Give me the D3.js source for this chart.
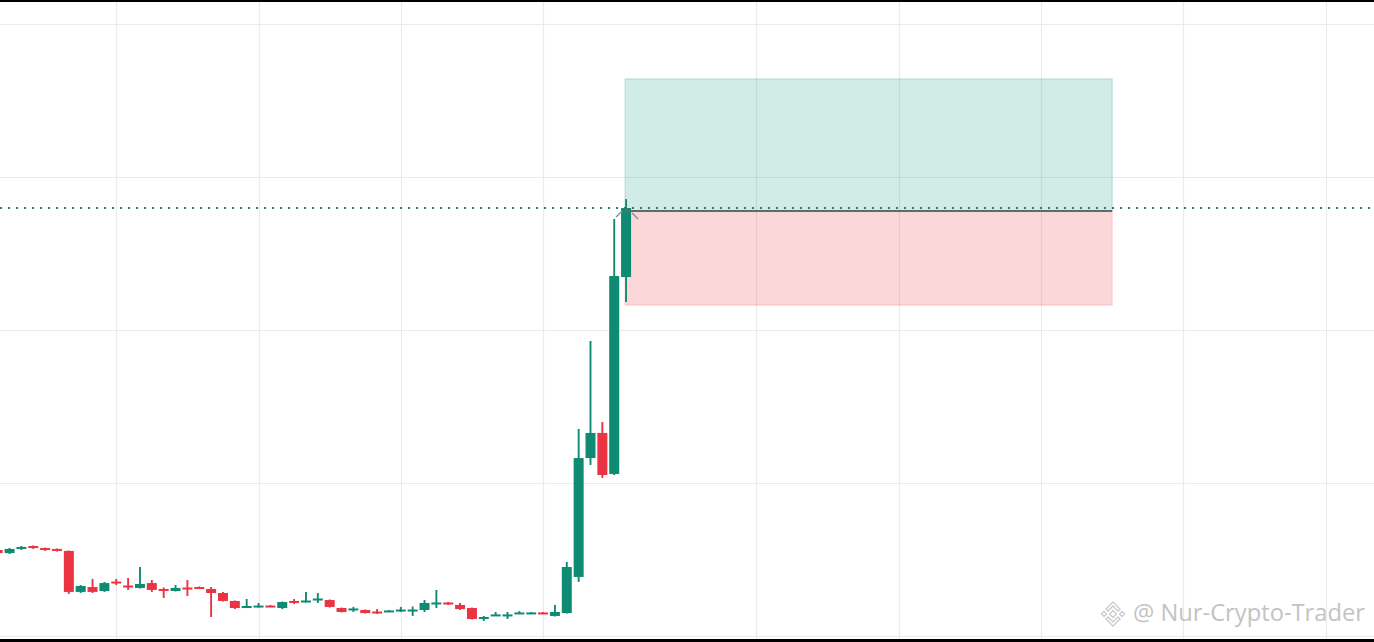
<!DOCTYPE html>
<html>
<head>
<meta charset="utf-8">
<script src="https://cdn.jsdelivr.net/npm/d3@7"></script>
<style>
  html, body { margin: 0; padding: 0; background: #ffffff; overflow: hidden; }
  svg { display: block; }
</style>
</head>
<body>
<div id="chart"></div>
<script>
/// Candle data (bar index, open, high, low, close) ///
var barIndex = d3.range(0, 54);
var opens  = [3.562, 3.542, 3.569, 3.588, 3.575, 3.569, 3.556, 3.288, 3.320, 3.294,
              3.356, 3.330, 3.314, 3.346, 3.307, 3.294, 3.317, 3.320, 3.307, 3.281,
              3.229, 3.186, 3.190, 3.199, 3.183, 3.229, 3.222, 3.235, 3.235, 3.183,
              3.170, 3.170, 3.160, 3.160, 3.167, 3.167, 3.170, 3.212, 3.219, 3.203,
              3.183, 3.111, 3.134, 3.134, 3.147, 3.147, 3.154, 3.131, 3.150, 3.386,
              4.163, 4.327, 4.059, 5.346];
var highs  = [3.569, 3.575, 3.588, 3.592, 3.578, 3.572, 3.559, 3.333, 3.373, 3.353,
              3.373, 3.379, 3.451, 3.366, 3.317, 3.333, 3.366, 3.324, 3.320, 3.288,
              3.232, 3.242, 3.216, 3.203, 3.225, 3.242, 3.288, 3.281, 3.239, 3.186,
              3.190, 3.173, 3.176, 3.170, 3.190, 3.193, 3.235, 3.301, 3.222, 3.216,
              3.186, 3.131, 3.157, 3.157, 3.163, 3.157, 3.157, 3.203, 3.484, 4.353,
              4.928, 4.399, 5.725, 5.856];
var lows   = [3.536, 3.536, 3.562, 3.569, 3.556, 3.552, 3.275, 3.281, 3.281, 3.288,
              3.333, 3.301, 3.310, 3.288, 3.248, 3.291, 3.261, 3.307, 3.124, 3.225,
              3.176, 3.183, 3.186, 3.190, 3.176, 3.209, 3.219, 3.216, 3.186, 3.154,
              3.157, 3.147, 3.144, 3.157, 3.157, 3.131, 3.157, 3.183, 3.203, 3.170,
              3.108, 3.098, 3.131, 3.111, 3.144, 3.144, 3.144, 3.127, 3.147, 3.353,
              4.118, 4.033, 4.052, 5.183];
var closes = [3.542, 3.569, 3.582, 3.578, 3.565, 3.556, 3.288, 3.327, 3.288, 3.346,
              3.346, 3.320, 3.340, 3.301, 3.297, 3.314, 3.310, 3.310, 3.281, 3.229,
              3.183, 3.196, 3.199, 3.193, 3.222, 3.219, 3.232, 3.245, 3.190, 3.157,
              3.180, 3.150, 3.154, 3.167, 3.173, 3.173, 3.216, 3.219, 3.209, 3.176,
              3.111, 3.124, 3.141, 3.141, 3.154, 3.154, 3.147, 3.157, 3.451, 4.163,
              4.327, 4.052, 5.353, 5.797];

/// Long position tool ///
var positionBars = [53, 94];
var entryPrice = 5.778;
var targetPrice = 6.641;
var stopPrice = 5.163;

/// Grid ///
var priceTicks = [3, 4, 5, 6, 7];
var timeTicks = [10, 22, 34, 46, 64, 76, 88, 100, 112];

var watermark = "@ Nur-Crypto-Trader";

/// SVG area ///
var svgWidth = 1374;
var svgHeight = 642;

var svg = d3.select("#chart")
    .append("svg")
    .attr("width", svgWidth)
    .attr("height", svgHeight);

/// Scales ///
var x_scale = d3.scaleLinear()
    .domain([0, 116])
    .range([-2.3, 1373]);

var y_scale = d3.scaleLinear()
    .domain([3, 7])
    .range([636, 24]);

var bodyWidth = 10;
var green = "#0f8b73";
var red = "#ea3441";

/// Grid lines ///
var grid = svg.append("g");

grid.selectAll(".hgrid")
    .data(priceTicks)
    .enter()
    .append("line")
    .attr("x1", 0)
    .attr("x2", svgWidth)
    .attr("y1", d => Math.round(y_scale(d)) + 0.5)
    .attr("y2", d => Math.round(y_scale(d)) + 0.5)
    .style("stroke", "#ebebeb")
    .style("stroke-width", 1.2);

grid.selectAll(".vgrid")
    .data(timeTicks)
    .enter()
    .append("line")
    .attr("x1", d => Math.round(x_scale(d)) + 0.5)
    .attr("x2", d => Math.round(x_scale(d)) + 0.5)
    .attr("y1", 0)
    .attr("y2", svgHeight)
    .style("stroke", "#ebebeb")
    .style("stroke-width", 1.2);

/// Position boxes (target above, stop below) ///
var boxX = x_scale(positionBars[0]) - 1;
var boxW = x_scale(positionBars[1]) - boxX;

svg.append("rect")
    .attr("x", boxX)
    .attr("y", y_scale(targetPrice))
    .attr("width", boxW)
    .attr("height", y_scale(entryPrice) - y_scale(targetPrice))
    .style("fill", "rgba(8,153,129,0.19)")
    .style("stroke", "rgba(8,153,129,0.25)")
    .style("stroke-width", 1);

svg.append("rect")
    .attr("x", boxX)
    .attr("y", y_scale(entryPrice))
    .attr("width", boxW)
    .attr("height", y_scale(stopPrice) - y_scale(entryPrice))
    .style("fill", "rgba(242,54,69,0.2)")
    .style("stroke", "rgba(242,54,69,0.22)")
    .style("stroke-width", 1);

/// Candles ///
var candles = barIndex.map(function (i) {
    return { i: i, o: opens[i], h: highs[i], l: lows[i], c: closes[i] };
});

var candle_group = svg.append("g");

candle_group.selectAll(".wick")
    .data(candles)
    .enter()
    .append("line")
    .attr("x1", d => x_scale(d.i))
    .attr("x2", d => x_scale(d.i))
    .attr("y1", d => y_scale(d.h))
    .attr("y2", d => y_scale(d.l))
    .style("stroke", d => d.c >= d.o ? green : red)
    .style("stroke-width", 1.9);

candle_group.selectAll(".body")
    .data(candles)
    .enter()
    .append("rect")
    .attr("x", d => x_scale(d.i) - bodyWidth / 2)
    .attr("y", d => y_scale(Math.max(d.o, d.c)))
    .attr("width", bodyWidth)
    .attr("height", d => Math.max(2, Math.abs(y_scale(d.o) - y_scale(d.c))))
    .style("fill", d => d.c >= d.o ? green : red);

/// Entry line ///
svg.append("line")
    .attr("x1", boxX)
    .attr("x2", boxX + boxW)
    .attr("y1", y_scale(entryPrice))
    .attr("y2", y_scale(entryPrice))
    .style("stroke", "#5f6b69")
    .style("stroke-width", 2);

/// little handle marks at the entry ///
var ex = x_scale(positionBars[0]);
var ey = y_scale(entryPrice);
svg.append("path")
    .attr("d", `M${ex - 10},${ey + 6} L${ex - 4},${ey}`)
    .style("stroke", "#8a8f8f")
    .style("stroke-width", 1.5)
    .style("fill", "none");
svg.append("path")
    .attr("d", `M${ex + 6},${ey + 2} L${ex + 12},${ey + 8}`)
    .style("stroke", "#8a8f8f")
    .style("stroke-width", 1.5)
    .style("fill", "none");

/// Last price dotted line ///
var lastClose = closes[closes.length - 1];
svg.append("line")
    .attr("x1", 0)
    .attr("x2", svgWidth)
    .attr("y1", y_scale(lastClose))
    .attr("y2", y_scale(lastClose))
    .style("stroke", "#2f7d71")
    .style("stroke-width", 2)
    .style("stroke-dasharray", "2,6");

/// Watermark ///
var wm = svg.append("g")
    .attr("transform", "translate(1113, 614)")
    .style("fill", "none")
    .style("stroke", "#cbcbcb")
    .style("stroke-width", 1.3);

wm.append("path").attr("d", "M0,-3.5 L3.5,0 L0,3.5 L-3.5,0 Z");
wm.append("path").attr("d", "M-9,-2.5 L-6.5,0 L-9,2.5 L-11.5,0 Z");
wm.append("path").attr("d", "M9,-2.5 L11.5,0 L9,2.5 L6.5,0 Z");
wm.append("path").attr("d", "M-7,-5 L0,-12 L7,-5 L5,-3 L0,-8 L-5,-3 Z");
wm.append("path").attr("d", "M-7,5 L0,12 L7,5 L5,3 L0,8 L-5,3 Z");

svg.append("text")
    .attr("x", 1133)
    .attr("y", 621)
    .attr("textLength", 232)
    .attr("lengthAdjust", "spacingAndGlyphs")
    .style("font-family", "'Open Sans', 'Noto Sans', sans-serif")
    .style("font-size", "24px")
    .style("fill", "#c3c3c3")
    .text(watermark);

/// Frame lines ///
svg.append("rect")
    .attr("x", 0).attr("y", 0)
    .attr("width", svgWidth).attr("height", 2)
    .style("fill", "#000");

svg.append("rect")
    .attr("x", 0).attr("y", 639)
    .attr("width", svgWidth).attr("height", 3)
    .style("fill", "#000");
</script>
</body>
</html>
